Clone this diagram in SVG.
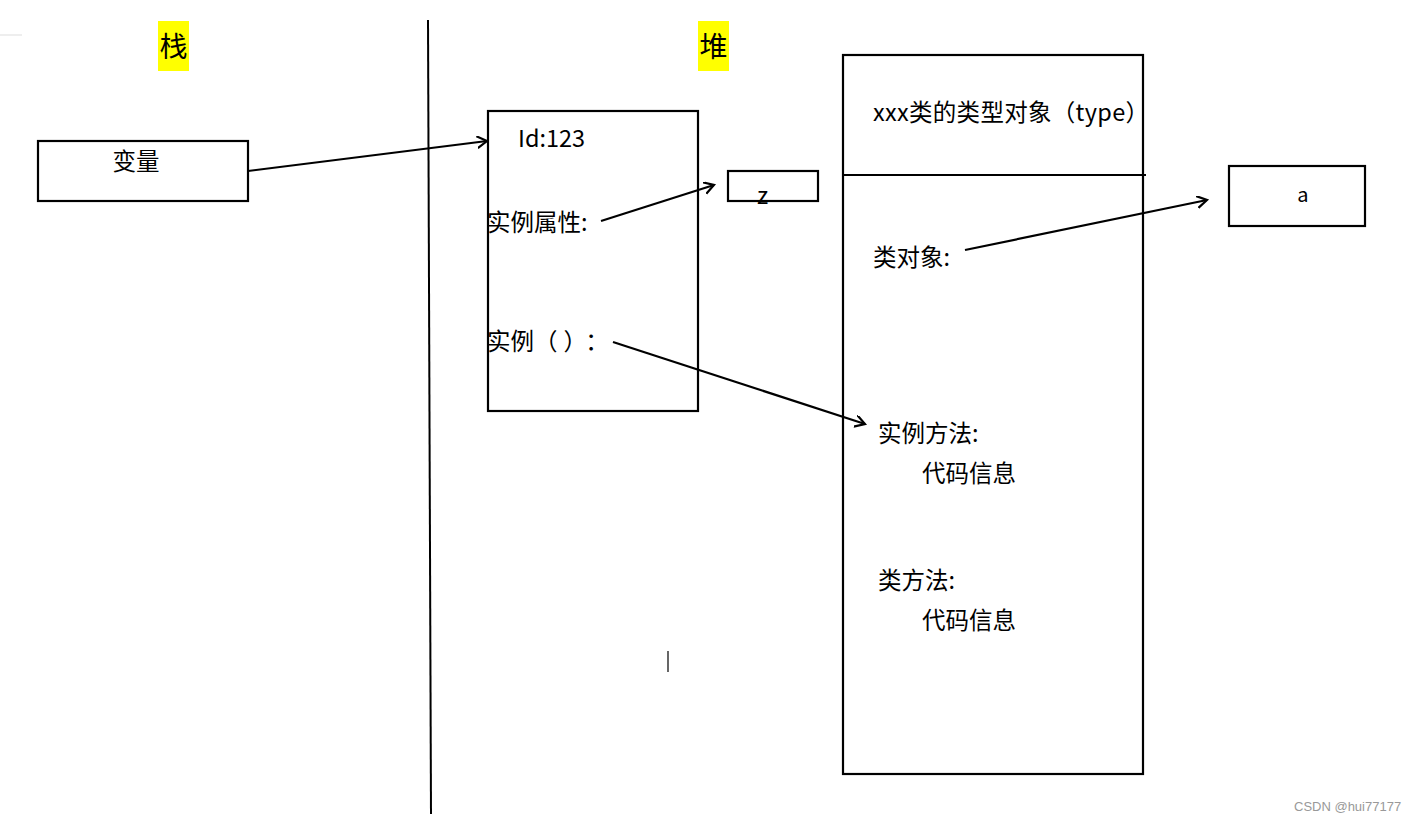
<svg xmlns="http://www.w3.org/2000/svg" width="1419" height="821" viewBox="0 0 1419 821">
<defs>
<style>
.box{fill:#fff;stroke:#000;stroke-width:2.2}
.t{font-family:"Noto Sans CJK SC","Noto Sans",sans-serif;font-size:23.5px;fill:#000}
.big{font-size:28px}
.a{font-size:20px}
.conn{stroke:#000;stroke-width:2.2;fill:none;marker-end:url(#arr)}
.hl{fill:#ffff00}
</style>
<marker id="arr" markerWidth="14" markerHeight="14" refX="10" refY="6" orient="auto" markerUnits="userSpaceOnUse">
<polyline points="0,0 10,6 0,12" fill="none" stroke="#000" stroke-width="2.2"/>
</marker>
</defs>
<rect width="1419" height="821" fill="#fff"/>
<line x1="0" y1="35" x2="22" y2="35" stroke="#ddd" stroke-width="1"/>
<g id="label-stack">
<rect class="hl" x="158" y="21" width="31" height="50"/>
<text class="t big" x="173.5" y="57" text-anchor="middle">栈</text>
</g>
<g id="label-heap">
<rect class="hl" x="698" y="21" width="31" height="50"/>
<text class="t big" x="713.5" y="57" text-anchor="middle">堆</text>
</g>
<g id="divider">
<line x1="428" y1="20" x2="431" y2="814" stroke="#000" stroke-width="2"/>
</g>
<g id="node-var">
<rect class="box" x="38" y="141" width="210" height="60"/>
<text class="t" x="136" y="170" text-anchor="middle">变量</text>
</g>
<g id="node-instance">
<rect class="box" x="488" y="111" width="210" height="300"/>
<text class="t" x="518" y="147">Id:123</text>
<text class="t" x="487" y="231">实例属性:</text>
<text class="t" x="487" y="350">实例（<tspan dx="6">）</tspan><tspan dx="10">：</tspan></text>
</g>
<g id="node-z">
<rect class="box" x="728" y="171" width="90" height="30"/>
<text class="t" x="757" y="204">z</text>
</g>
<g id="node-type">
<rect class="box" x="843" y="55" width="300" height="719"/>
<line x1="843" y1="175" x2="1146" y2="175" stroke="#000" stroke-width="2.2"/>
<text class="t" x="873" y="121" letter-spacing="0.3">xxx类的类型对象（type）</text>
<text class="t" x="873" y="266">类对象:</text>
<text class="t" x="878" y="442">实例方法:</text>
<text class="t" x="922" y="482">代码信息</text>
<text class="t" x="878" y="589">类方法:</text>
<text class="t" x="922" y="629">代码信息</text>
</g>
<g id="node-a">
<rect class="box" x="1229" y="166" width="136" height="60"/>
<text class="t a" x="1303" y="202" text-anchor="middle">a</text>
</g>
<g id="connectors">
<line class="conn" x1="248" y1="171" x2="487" y2="141"/>
<line class="conn" x1="601" y1="221" x2="714" y2="185"/>
<line class="conn" x1="965" y1="250" x2="1207" y2="200"/>
<line class="conn" x1="613" y1="342" x2="865" y2="424"/>
</g>
<line x1="668" y1="651" x2="668" y2="672" stroke="#000" stroke-width="1.2"/>
<text x="1294" y="811" font-family="Liberation Sans, sans-serif" font-size="13" fill="#999">CSDN @hui77177</text>
</svg>
